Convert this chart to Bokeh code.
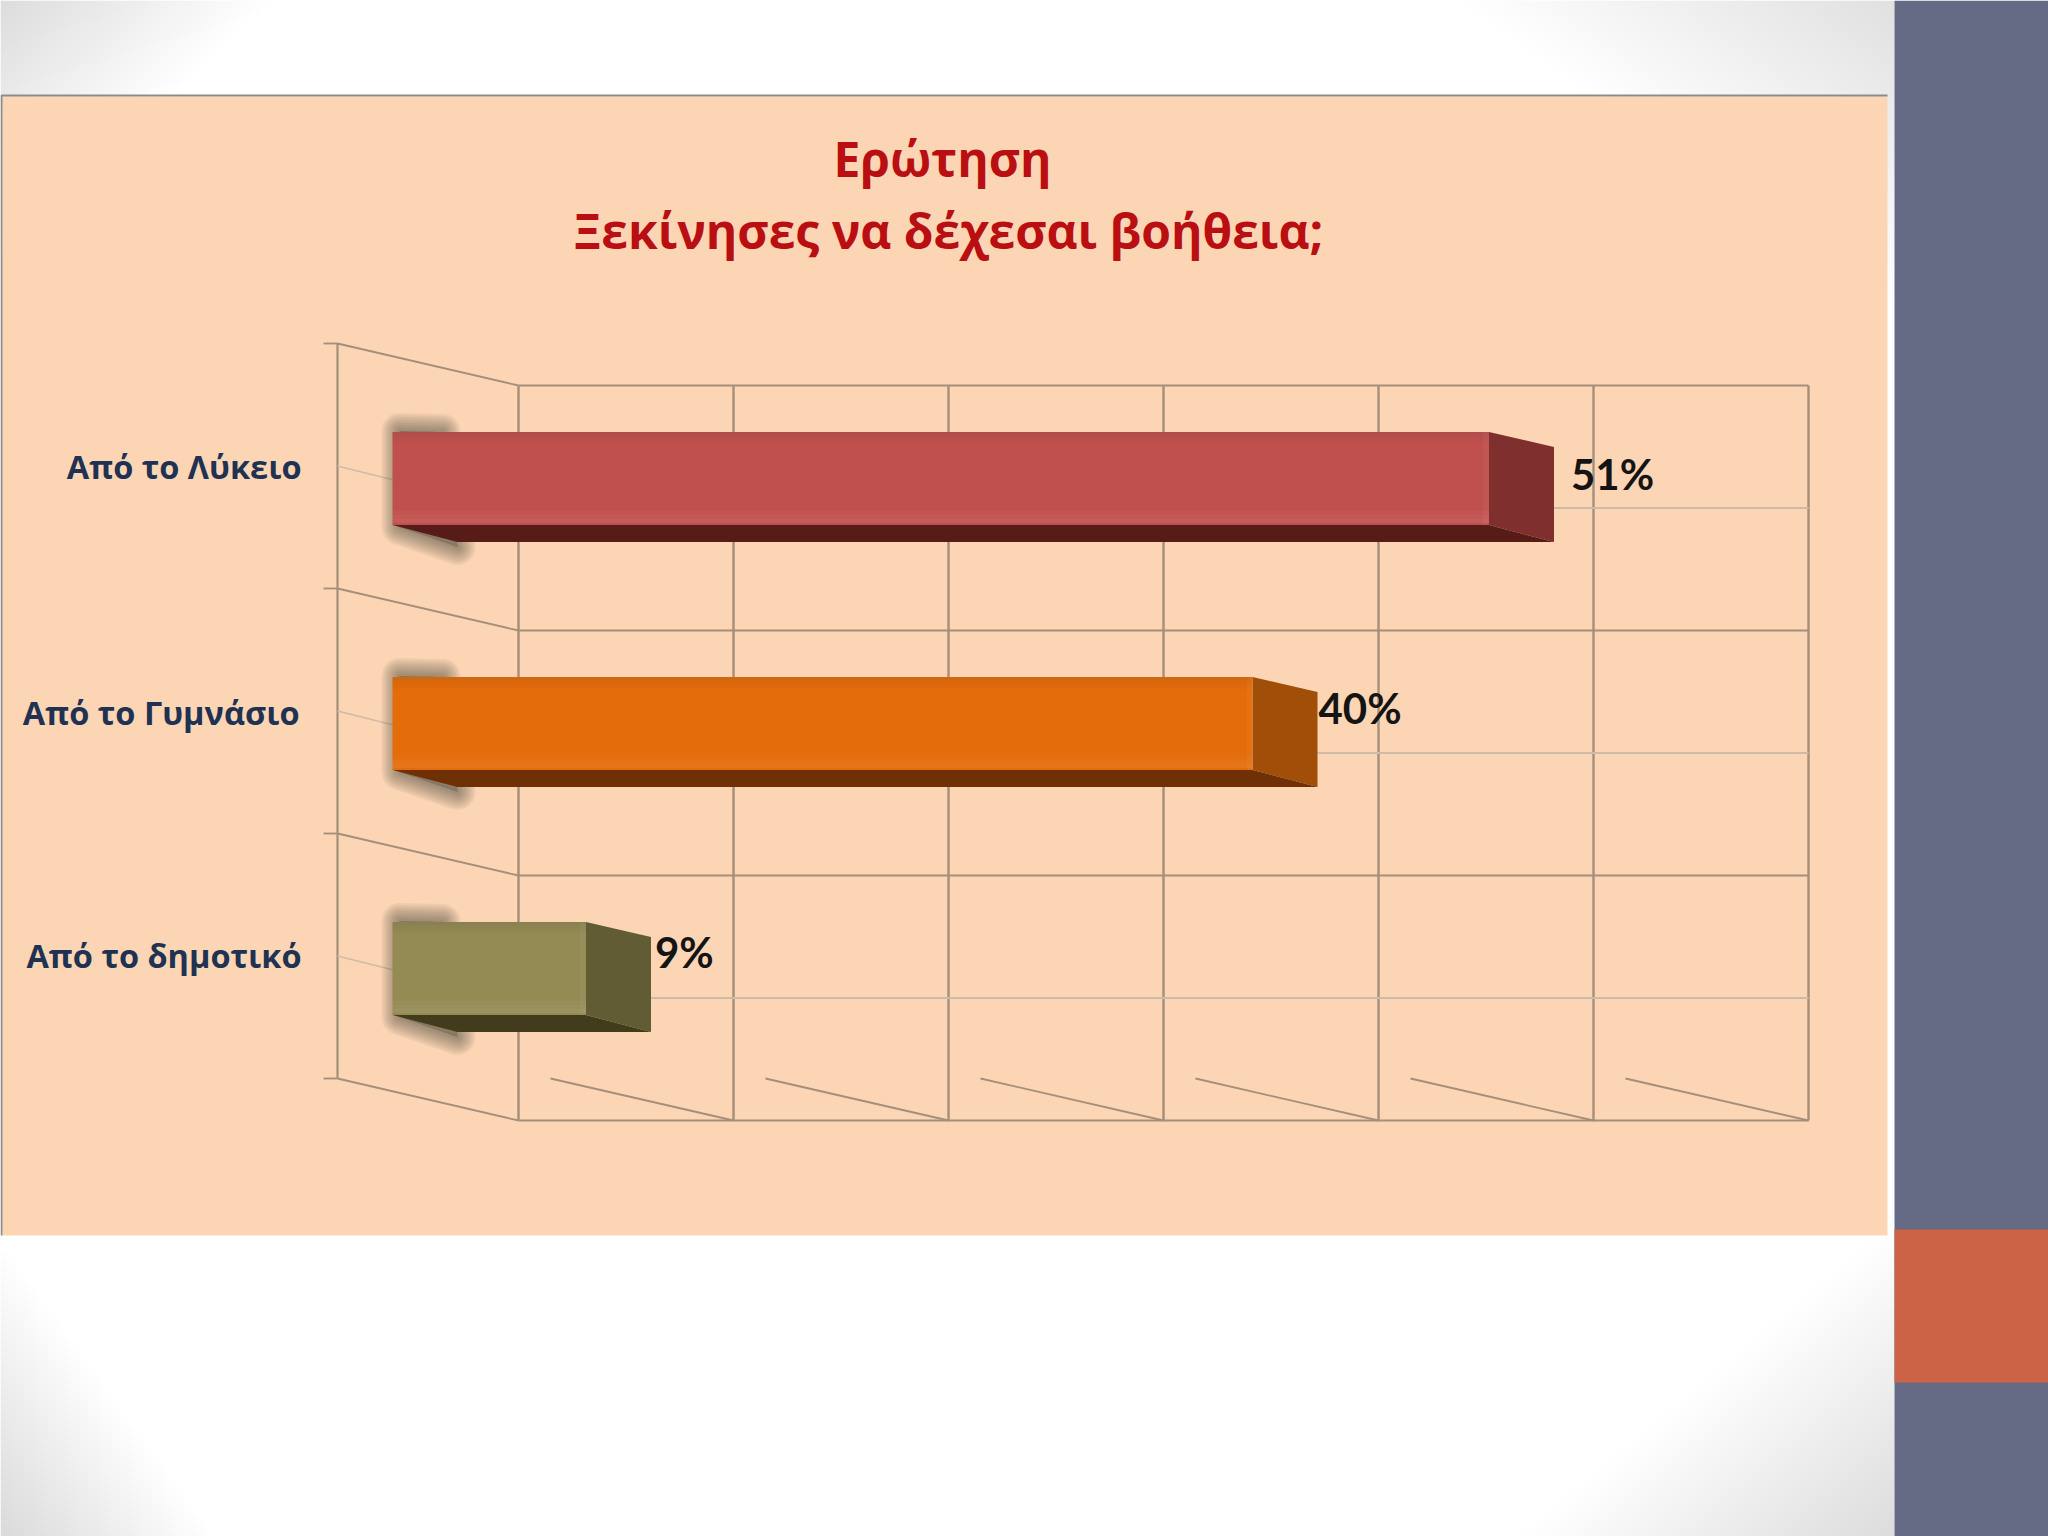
import numpy as np
from bokeh.plotting import figure
from bokeh.models import Range1d
from bokeh.core.properties import value
from bokeh.embed import file_html
from bokeh.resources import INLINE

# ---- data ----
categories = ["Από το δημοτικό", "Από το Γυμνάσιο", "Από το Λύκειο"]
percent = [9, 40, 51]
percent_labels = ["9%", "40%", "51%"]
face_colors = ["#948a54", "#e46c0a", "#c0504d"]
side_colors = ["#625c35", "#a04e08", "#7f2f2d"]
under_colors = ["#423c1c", "#6e3004", "#571c18"]
title_lines = ["Ερώτηση", "Ξεκίνησες να δέχεσαι βοήθεια;"]
x_grid = [0, 10, 20, 30, 40, 50, 60]

# ---- layout constants (pixels on the 2048x1536 page) ----
W, H = 2048, 1536
PX_PER_PCT = 21.5
PX_PER_BAND = 245.0
FRONT_X0, FRONT_Y0 = 337.0, 1078.0     # wall front, bottom corner
DEPTH_X, DEPTH_Y = 181.0, 42.0         # wall depth offset


def xd(px):
    return (px - FRONT_X0) / PX_PER_PCT


def yd(py):
    return (FRONT_Y0 - py) / PX_PER_BAND


p = figure(width=W, height=H, output_backend="svg", toolbar_location=None,
           x_range=Range1d(xd(0), xd(W)), y_range=Range1d(yd(H), yd(0)),
           min_border=0, outline_line_color=None, background_fill_color="white",
           border_fill_color="white")
p.axis.visible = False
p.grid.visible = False
p.styles = {"position": "absolute", "left": "0", "top": "0"}

# ---- slide background: soft grey corners ----
gy, gx = np.mgrid[0:384, 0:474]
px_x = gx / 473 * 1894
px_y = (383 - gy) / 383 * H            # image rows run bottom to top
SW = 1894
corners = [
    (px_x, px_y, 265, 250, 34),                 # top left
    (SW - px_x, px_y, 430, 300, 30),            # top right
    (px_x, H - px_y, 210, 290, 36),             # bottom left
    (SW - px_x, H - px_y, 370, 310, 34),        # bottom right
]
shade = np.full(px_x.shape, 255.0)
for dx, dy, ax, ay, depth in corners:
    shade -= depth * np.clip(1 - dx / ax - dy / ay, 0, 1)
shade = np.clip(shade, 205, 255).astype(np.uint32)
img = (255 << 24) | (shade << 16) | (shade << 8) | shade
p.image_rgba(image=[img], x=xd(0), y=yd(H), dw=SW / PX_PER_PCT, dh=H / PX_PER_BAND)


def box(x0, y0, x1, y1, color, **kw):
    p.quad(left=xd(x0), right=xd(x1), top=yd(y0), bottom=yd(y1),
           fill_color=color, line_color=None, **kw)


# slide side strip
box(1894, 0, W, H, "#656b85")
box(1894, 1229, W, 1382, "#cd6346")
# chart panel
box(2, 96, 1887, 1235, "#fcd5b5")
p.line([xd(1), xd(1), xd(1887)], [yd(1235), yd(95), yd(95)], line_color="#8f8b84", line_width=2)

GRID = "#a38f7a"
LIGHT = "#cdbba5"
WALL_L, WALL_R = FRONT_X0 + DEPTH_X, FRONT_X0 + DEPTH_X + 60 * PX_PER_PCT
bands = [0, 1, 2, 3]

# back wall, verticals
for v in x_grid:
    p.line([v + xd(WALL_L), v + xd(WALL_L)], [yd(FRONT_Y0 + DEPTH_Y), 3 + yd(FRONT_Y0 + DEPTH_Y)],
           line_color=GRID, line_width=2.4)
# back wall horizontals + side wall slants + tick marks
for b in bands:
    yb = b + yd(FRONT_Y0 + DEPTH_Y)
    p.line([xd(WALL_L), xd(WALL_R)], [yb, yb], line_color=GRID, line_width=2.2)
    p.line([xd(FRONT_X0), xd(WALL_L)], [b, yb], line_color=GRID, line_width=1.8)
    p.line([xd(FRONT_X0 - 14), xd(FRONT_X0)], [b, b], line_color=GRID, line_width=1.8)
# side wall vertical
p.line([xd(FRONT_X0), xd(FRONT_X0)], [0, 3], line_color=GRID, line_width=2.2)
# mid-band light lines
for b in [0.5, 1.5, 2.5]:
    yb = b + yd(FRONT_Y0 + DEPTH_Y)
    p.line([xd(WALL_L), xd(WALL_R)], [yb, yb], line_color=LIGHT, line_width=1.8)
    p.line([xd(FRONT_X0), xd(393)], [b, b - 14 / PX_PER_BAND], line_color=LIGHT, line_width=1.6)
# floor slants
for v in x_grid[1:]:
    p.line([v + xd(WALL_L - 183), v + xd(WALL_L)], [0, yd(FRONT_Y0 + DEPTH_Y)],
           line_color=GRID, line_width=1.8)

# ---- bars ----
BAR_X0 = 392.0
BAR_DX, BAR_DY = 65.0, 17.0
BAR_H = 93.0
BAR_SHIFT = 12.5


def poly(xs, ys, color, **kw):
    p.patch([xd(x) for x in xs], [yd(y) for y in ys], fill_color=color, line_color=None, **kw)


for i, (cat, val, lab) in enumerate(zip(categories, percent, percent_labels)):
    top_py = FRONT_Y0 - (i + 0.5) * PX_PER_BAND + BAR_SHIFT - BAR_H / 2
    bot_py = top_py + BAR_H
    x_end_px = BAR_X0 + val * PX_PER_PCT

    # blurred shadow behind the bar: stacked round-joined strokes
    sx = [399, 442, 457, 399]
    sy = [top_py - 1, top_py, top_py + 115, top_py + 95]
    for w in [36, 32, 28, 24, 20, 16, 12, 8, 4]:
        p.patch([xd(x) for x in sx], [yd(y) for y in sy], fill_color="#4d4034", fill_alpha=0.03,
                line_color="#4d4034", line_alpha=0.07, line_width=w, line_join="round")

    # side and under faces
    poly([x_end_px, x_end_px + BAR_DX, x_end_px + BAR_DX, x_end_px],
         [top_py, top_py + BAR_DY - 2, bot_py + BAR_DY, bot_py], side_colors[i])
    poly([BAR_X0, x_end_px, x_end_px + BAR_DX, BAR_X0 + BAR_DX],
         [bot_py, bot_py, bot_py + BAR_DY, bot_py + BAR_DY], under_colors[i])
    # front face from the value through the data scale
    p.hbar(y=yd(top_py + BAR_H / 2), left=xd(BAR_X0), right=xd(BAR_X0) + val, height=BAR_H / PX_PER_BAND,
           fill_color=face_colors[i], line_color=None)
    # soft bevel on the front face
    for k, a in enumerate([0.10, 0.07, 0.04, 0.02]):
        box(BAR_X0, top_py + 3 * k, x_end_px, top_py + 3 * k + 3, "#3a3a3a", fill_alpha=a)
    for k, a in enumerate([0.07, 0.05, 0.03]):
        box(BAR_X0, bot_py - 2 - 4 * (k + 1), x_end_px, bot_py - 2 - 4 * k, "#ffffff", fill_alpha=a)
    box(x_end_px - 6, top_py, x_end_px, bot_py, "#ffffff", fill_alpha=0.04)

    # value label
    label_x = [x_end_px + BAR_DX + 4, x_end_px + BAR_DX + 1, x_end_px + BAR_DX + 17][i]
    label_y = [951, 707, 473][i]
    p.text(x=[xd(label_x)], y=[yd(label_y)], text=[lab], text_font=value("Lato"),
           text_font_style="bold", text_font_size="42px", text_color="#141414",
           text_align="left", text_baseline="middle")

    # category label
    cy_py = [955, 712, 466][i]
    cr_px = [301, 299, 301][i]
    p.text(x=[xd(cr_px)], y=[yd(cy_py)], text=[cat], text_font=value("Open Sans"),
           text_font_style="bold", text_font_size="32.5px", text_color="#1f3252",
           text_align="right", text_baseline="middle")

# ---- title ----
for line, px, py in zip(title_lines, [942, 948], [158, 230]):
    p.text(x=[xd(px)], y=[yd(py)], text=[line], text_font=value("Open Sans"),
           text_font_style="bold", text_font_size="48px", text_color="#b90f12",
           text_align="center", text_baseline="middle")

open("out.html", "w").write(file_html(p, INLINE))
